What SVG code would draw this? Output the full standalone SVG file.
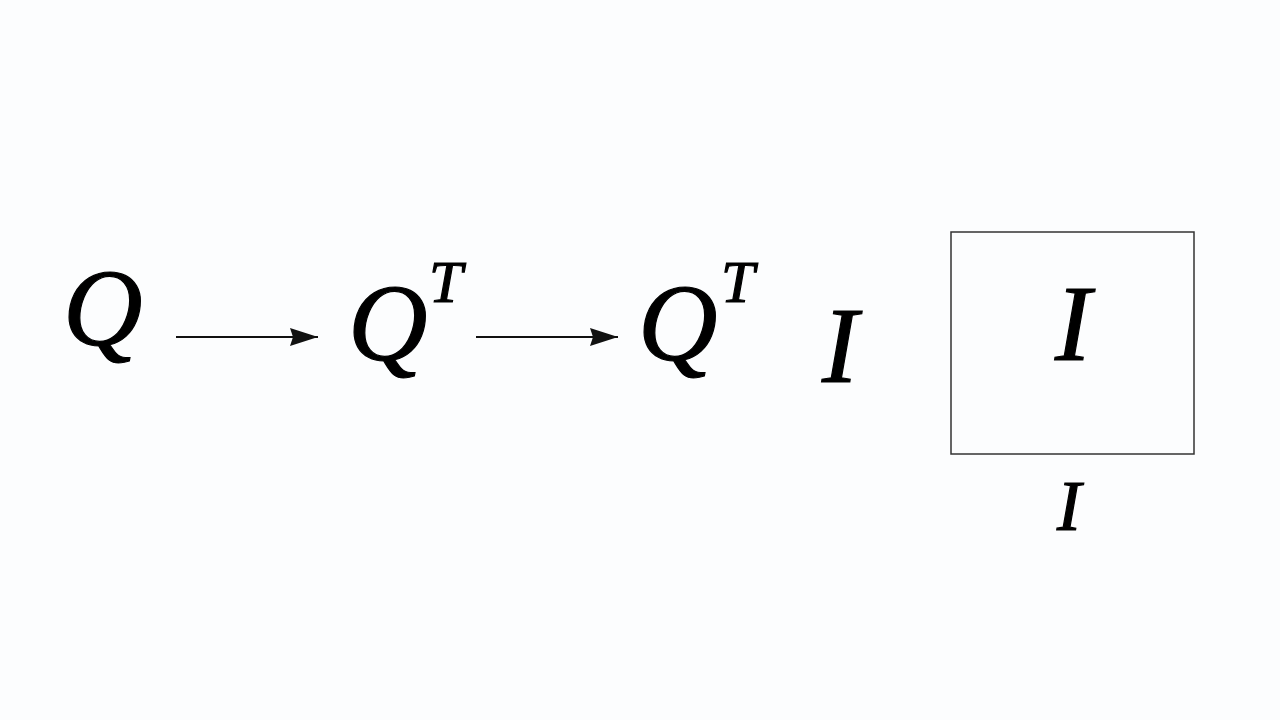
<svg xmlns="http://www.w3.org/2000/svg" width="1280" height="720" viewBox="0 0 1280 720">
<style>
.m{font-family:"Liberation Serif","Times New Roman",serif;font-style:italic;fill:#000;stroke:#000;stroke-width:1.2}
.c{stroke:#111;stroke-width:2;fill:none}
</style>
<defs>
<marker id="ah" viewBox="0 0 28 20" refX="28" refY="10" markerWidth="28" markerHeight="20" markerUnits="userSpaceOnUse" orient="auto">
<path d="M0,1 L28,10 L0,19 L3,10 Z" fill="#111"/>
</marker>
</defs>
<rect width="1280" height="720" fill="#fcfdfe"/>
<g id="q1"><text class="m" x="63" y="345" font-size="110">Q</text></g>
<g id="q2"><text class="m" x="348" y="360" font-size="110">Q</text><text class="m" x="429" y="302" font-size="60">T</text></g>
<g id="q3"><text class="m" x="638" y="360" font-size="110">Q</text><text class="m" x="721" y="302" font-size="60">T</text></g>
<g id="i1"><text class="m" x="822" y="382" font-size="108">I</text></g>
<g id="box"><rect x="951" y="232" width="243" height="222" fill="none" stroke="#333" stroke-width="1.5"/><text class="m" x="1055" y="360" font-size="108">I</text></g>
<g id="i3"><text class="m" x="1057" y="530" font-size="72">I</text></g>
<g id="connectors">
<line class="c" x1="176" y1="337" x2="318" y2="337" marker-end="url(#ah)"/>
<line class="c" x1="476" y1="337" x2="618" y2="337" marker-end="url(#ah)"/>
</g>
</svg>
